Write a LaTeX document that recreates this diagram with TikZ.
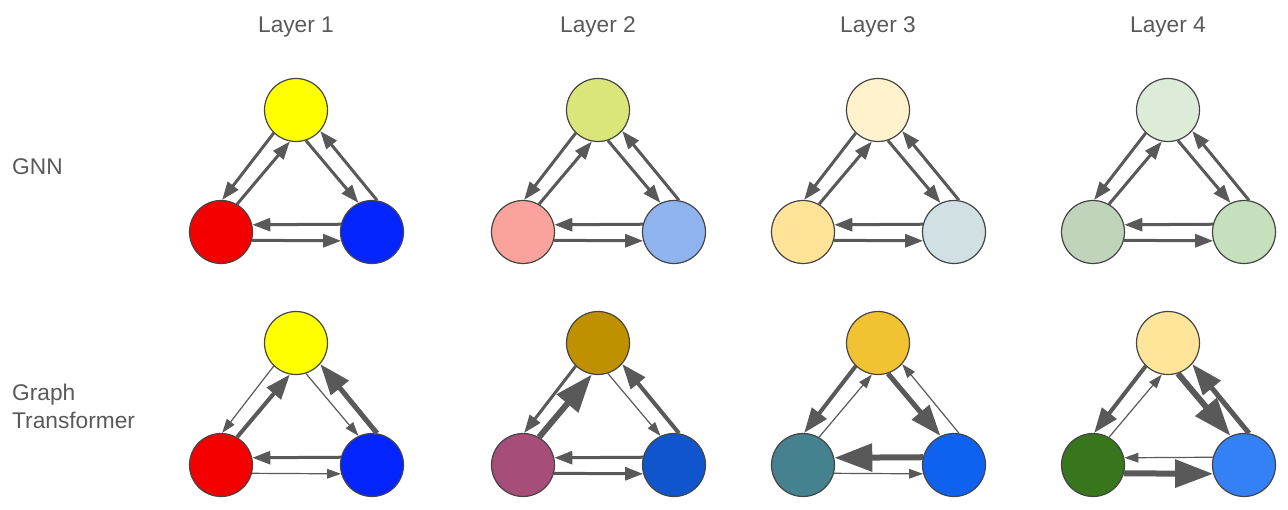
\documentclass[tikz,border=0pt]{standalone}
\usepackage{fontspec}
\setmainfont{Liberation Sans}
\usetikzlibrary{arrows.meta}
\definecolor{txt}{HTML}{595959}
\definecolor{edge}{HTML}{595959}
\definecolor{rim}{HTML}{444444}
\definecolor{aT}{HTML}{FFFF00}\definecolor{aL}{HTML}{F40000}\definecolor{aR}{HTML}{0525FF}
\definecolor{bT}{HTML}{DAE67A}\definecolor{bL}{HTML}{F9A39C}\definecolor{bR}{HTML}{8FB3EE}
\definecolor{cT}{HTML}{FFF2CC}\definecolor{cL}{HTML}{FFE399}\definecolor{cR}{HTML}{D0E0E3}
\definecolor{dT}{HTML}{DDEBD9}\definecolor{dL}{HTML}{C0D3BB}\definecolor{dR}{HTML}{C6E0BE}
\definecolor{fT}{HTML}{BF9000}\definecolor{fL}{HTML}{A64D79}\definecolor{fR}{HTML}{1155CC}
\definecolor{gT}{HTML}{F1C232}\definecolor{gL}{HTML}{45818E}\definecolor{gR}{HTML}{0F62F0}
\definecolor{hT}{HTML}{FFE599}\definecolor{hL}{HTML}{38761D}\definecolor{hR}{HTML}{3480F5}
\tikzset{
  vtx/.style={circle,draw=rim,line width=1.2pt,minimum size=63pt,inner sep=0pt},
  lbl/.style={text=txt,font=\fontsize{22.7}{28}\selectfont,inner sep=0pt},
  eA/.style={draw=edge,line width=1.2pt,-{Triangle[length=14pt,width=9.5pt]}},
  eC/.style={draw=edge,line width=3pt,-{Triangle[length=18pt,width=13pt]}},
  eD/.style={draw=edge,line width=4pt,-{Triangle[length=25pt,width=18pt]}},
  eE/.style={draw=edge,line width=5pt,-{Triangle[length=31pt,width=22pt]}},
  eF/.style={draw=edge,line width=6pt,-{Triangle[length=38pt,width=27pt]}},
}
% \triad{prefix}{top x}{top y}{top col}{left col}{right col}
\newcommand\triad[6]{%
  \node[vtx,fill=#4] (#1t) at (#2,#3) {};
  \node[vtx,fill=#5] (#1l) at (#2-75,#3+122) {};
  \node[vtx,fill=#6] (#1r) at (#2+76,#3+122) {};
}
% \wires{prefix}{t->l}{l->t}{t->r}{r->t}{r->l}{l->r}
\newcommand\wires[7]{%
  \draw[#2] (#1t.226) -- (#1l.88);
  \draw[#3] (#1l.60) -- (#1t.259);
  \draw[#4] (#1t.288) -- (#1r.115);
  \draw[#5] (#1r.81) -- (#1t.319);
  \draw[#6] (#1r.166) -- (#1l.13);
  \draw[#7] (#1l.345) -- (#1r.196);
}
\begin{document}
\begin{tikzpicture}[x=1pt,y=-1pt]
\useasboundingbox (0,0) rectangle (1288,510);
\node[lbl,anchor=base] (h1) at (296,33) {Layer 1};
\node[lbl,anchor=base] (h2) at (598,33) {Layer 2};
\node[lbl,anchor=base] (h3) at (878,33) {Layer 3};
\node[lbl,anchor=base] (h4) at (1168,33) {Layer 4};
\node[lbl,anchor=base west] (gnn) at (12,175) {GNN};
\node[lbl,anchor=north west,align=left] (gt) at (12,384) {Graph\\Transformer};
\triad{a}{296}{110}{aT}{aL}{aR}
\triad{b}{598}{110}{bT}{bL}{bR}
\triad{c}{878}{110}{cT}{cL}{cR}
\triad{d}{1168}{110}{dT}{dL}{dR}
\triad{e}{296}{343}{aT}{aL}{aR}
\triad{f}{598}{343}{fT}{fL}{fR}
\triad{g}{878}{343}{gT}{gL}{gR}
\triad{h}{1168}{343}{hT}{hL}{hR}
\wires{a}{eC}{eC}{eC}{eC}{eC}{eC}
\wires{b}{eC}{eC}{eC}{eC}{eC}{eC}
\wires{c}{eC}{eC}{eC}{eC}{eC}{eC}
\wires{d}{eC}{eC}{eC}{eC}{eC}{eC}
\wires{e}{eA}{eD}{eA}{eE}{eC}{eA}
\wires{f}{eC}{eF}{eA}{eD}{eC}{eC}
\wires{g}{eD}{eA}{eE}{eA}{eF}{eA}
\wires{h}{eD}{eA}{eF}{eE}{eA}{eF}
\end{tikzpicture}
\end{document}
